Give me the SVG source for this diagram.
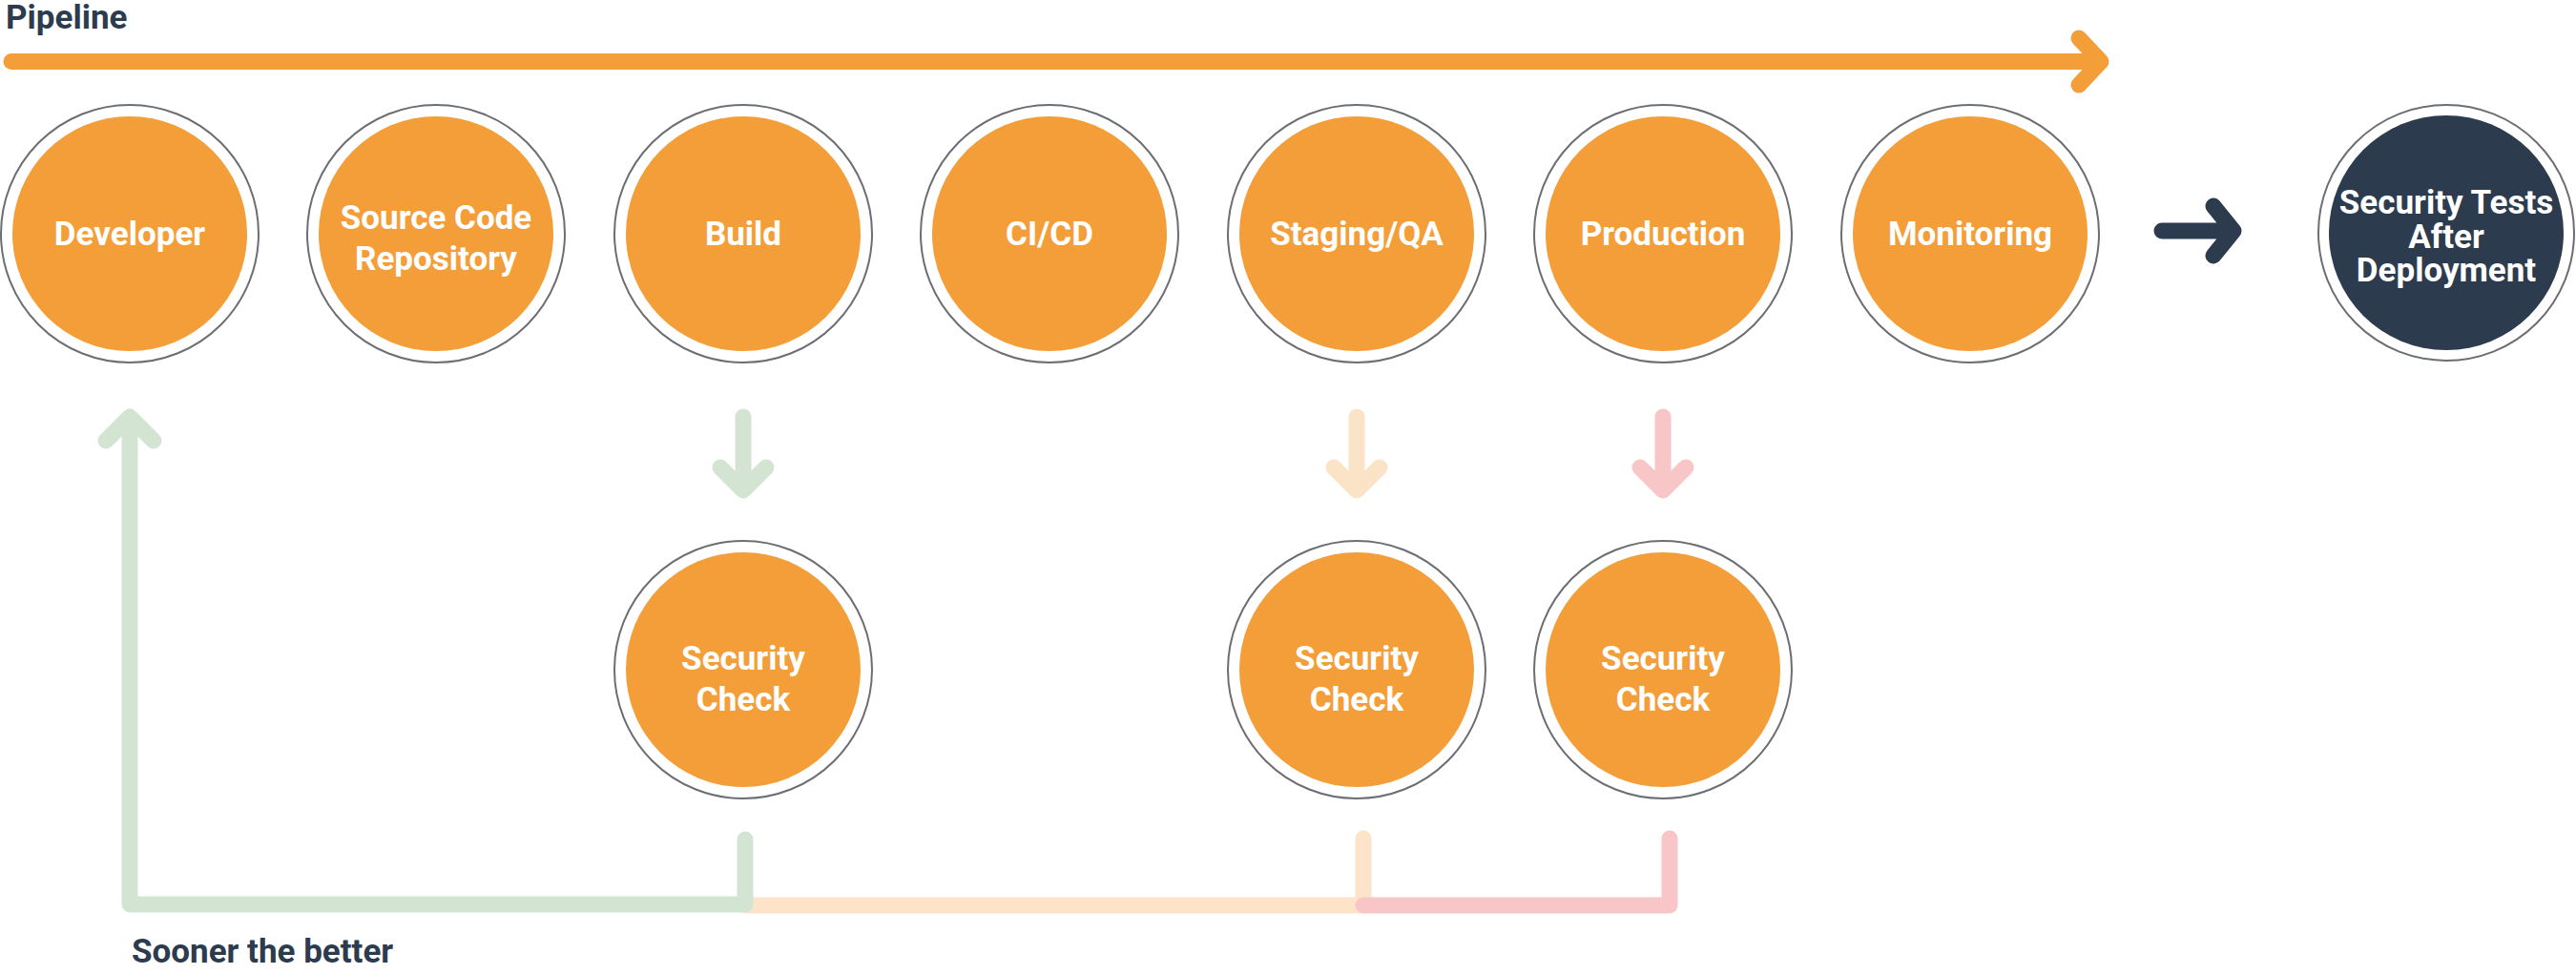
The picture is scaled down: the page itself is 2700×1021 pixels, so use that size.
<svg xmlns="http://www.w3.org/2000/svg" width="2700" height="1021" viewBox="0 0 2700 1021">
<style>
.ring{fill:#ffffff;stroke:#6b6e73;stroke-width:2}
.core{fill:#f39e39}
.dark{fill:#2d3b4e}
.lbl{font-family:Roboto,"Liberation Sans",sans-serif;font-weight:bold;font-size:35px;fill:#ffffff;text-anchor:middle}
.title{font-family:Roboto,"Liberation Sans",sans-serif;font-weight:bold;font-size:35px;fill:#2d3b4e}
.ln{fill:none;stroke-width:17;stroke-linecap:round;stroke-linejoin:round}
</style>
<rect width="2700" height="1021" fill="#ffffff"/>
<text class="title" x="6" y="30">Pipeline</text>
<text class="title" x="138" y="1009">Sooner the better</text>
<g id="connectors">
<path class="ln" stroke="#f39e39" d="M12 64.5H2202M2179 40L2202 64.5L2179 89"/>
<path class="ln" stroke="#2d3b4e" d="M2266 242H2341M2320 216L2341 242L2320 268"/>
<path class="ln" stroke="#fde3c8" d="M781 949H1429V879"/>
<path class="ln" stroke="#f8c6c6" d="M1429 949H1750V879"/>
<path class="ln" stroke="#d3e5d2" d="M781 880V948H136V437M111 462L136 437L161 462"/>
<path class="ln" stroke="#d3e5d2" d="M779 437V514M755 490L779 514L803 490"/>
<path class="ln" stroke="#fbe3c8" d="M1422 437V514M1398 490L1422 514L1446 490"/>
<path class="ln" stroke="#f8c6c6" d="M1743 437V514M1719 490L1743 514L1767 490"/>
</g>
<g id="developer"><circle class="ring" cx="136" cy="245" r="135"/><circle class="core" cx="136" cy="245" r="123"/><text class="lbl" x="136" y="257">Developer</text></g>
<g id="source-code-repository"><circle class="ring" cx="457" cy="245" r="135"/><circle class="core" cx="457" cy="245" r="123"/><text class="lbl" x="457" y="240">Source Code</text><text class="lbl" x="457" y="283">Repository</text></g>
<g id="build"><circle class="ring" cx="779" cy="245" r="135"/><circle class="core" cx="779" cy="245" r="123"/><text class="lbl" x="779" y="257">Build</text></g>
<g id="cicd"><circle class="ring" cx="1100" cy="245" r="135"/><circle class="core" cx="1100" cy="245" r="123"/><text class="lbl" x="1100" y="257">CI/CD</text></g>
<g id="staging-qa"><circle class="ring" cx="1422" cy="245" r="135"/><circle class="core" cx="1422" cy="245" r="123"/><text class="lbl" x="1422" y="257">Staging/QA</text></g>
<g id="production"><circle class="ring" cx="1743" cy="245" r="135"/><circle class="core" cx="1743" cy="245" r="123"/><text class="lbl" x="1743" y="257">Production</text></g>
<g id="monitoring"><circle class="ring" cx="2065" cy="245" r="135"/><circle class="core" cx="2065" cy="245" r="123"/><text class="lbl" x="2065" y="257">Monitoring</text></g>
<g id="security-tests-after-deployment"><circle class="ring" cx="2564" cy="244" r="134"/><circle class="dark" cx="2564" cy="244" r="123"/><text class="lbl" x="2564" y="224" font-size="33">Security Tests</text><text class="lbl" x="2564" y="260" font-size="33">After</text><text class="lbl" x="2564" y="295" font-size="33">Deployment</text></g>
<g id="security-check-build"><circle class="ring" cx="779" cy="702" r="135"/><circle class="core" cx="779" cy="702" r="123"/><text class="lbl" x="779" y="702">Security</text><text class="lbl" x="779" y="745">Check</text></g>
<g id="security-check-staging"><circle class="ring" cx="1422" cy="702" r="135"/><circle class="core" cx="1422" cy="702" r="123"/><text class="lbl" x="1422" y="702">Security</text><text class="lbl" x="1422" y="745">Check</text></g>
<g id="security-check-production"><circle class="ring" cx="1743" cy="702" r="135"/><circle class="core" cx="1743" cy="702" r="123"/><text class="lbl" x="1743" y="702">Security</text><text class="lbl" x="1743" y="745">Check</text></g>
</svg>
